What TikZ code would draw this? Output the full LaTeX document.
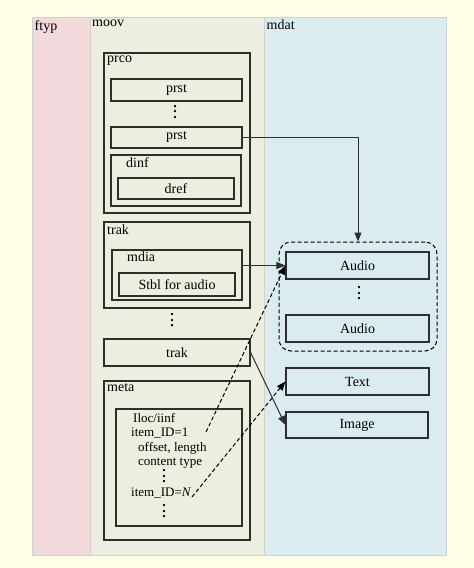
\documentclass[tikz,border=0pt]{standalone}
\usepackage{fontspec}
\setmainfont{Liberation Serif}
\usetikzlibrary{arrows.meta}
\definecolor{bgc}{HTML}{FEFEE6}
\definecolor{ftypc}{HTML}{F2DADC}
\definecolor{moovc}{HTML}{ECEEDF}
\definecolor{mdatc}{HTML}{DBECF1}
\definecolor{linec}{HTML}{2E2E2E}
\newcommand\myvdots{\vbox{\baselineskip5.5pt\lineskiplimit0pt\hbox{.}\hbox{.}\hbox{.}}}
\tikzset{
  col/.style={draw=black!18, line width=0.8pt, minimum width=#1, anchor=north west, minimum height=538pt, inner sep=0pt},
  box/.style={draw=linec, line width=1.2pt, rectangle, inner sep=0pt},
  lbl/.style={anchor=north west, inner sep=0pt, font=\fontsize{14pt}{16pt}\selectfont},
  txt/.style={inner sep=0pt, font=\fontsize{14pt}{16pt}\selectfont},
  itxt/.style={anchor=west, inner sep=0pt, font=\fontsize{13pt}{15pt}\selectfont},
  dotsn/.style={inner sep=0pt, font=\fontsize{14pt}{16pt}\bfseries\selectfont},
  arr/.style={-{Triangle[length=9pt,width=7pt]}, line width=1pt, draw=linec},
  darr/.style={-{Triangle[length=9pt,width=7pt]}, line width=1pt, dashed, dash pattern=on 4pt off 2.5pt, draw=black},
}
\begin{document}
\begin{tikzpicture}[x=1pt,y=-1pt]
\fill[bgc] (0,0) rectangle (474,568);
\useasboundingbox (0,0) rectangle (474,568);
% columns
\node[col=58pt, fill=ftypc] (ftyp) at (32,17) {};
\node[col=174pt, fill=moovc] (moov) at (90,17) {};
\node[col=182pt, fill=mdatc] (mdat) at (264,17) {};
\node[lbl] (ftypl) at (34.5,20) {ftyp};
\node[lbl] (moovl) at (92,20) {moov};
\node[lbl] (mdatl) at (266.5,20) {mdat};
% prco
\node[box, minimum width=146pt, minimum height=160pt] (prco) at (177,133) {};
\node[lbl] (prcol) at (107,56) {prco};
\node[box, txt, minimum width=131pt, minimum height=22pt] (prst1) at (176.5,90) {prst};
\node[dotsn] (dots1) at (175,112) {\myvdots};
\node[box, txt, minimum width=131pt, minimum height=21pt] (prst2) at (176.5,137.5) {prst};
\node[box, minimum width=130pt, minimum height=51pt] (dinf) at (176,180.5) {};
\node[lbl] (dinfl) at (126,157) {dinf};
\node[box, txt, minimum width=116pt, minimum height=21pt] (dref) at (176,188.5) {dref};
% trak
\node[box, minimum width=146pt, minimum height=86pt] (trak) at (177,265) {};
\node[lbl] (trakl) at (107,225) {trak};
\node[box, minimum width=130pt, minimum height=50pt] (mdia) at (177,275) {};
\node[lbl] (mdial) at (127,252) {mdia};
\node[box, txt, minimum width=116pt, minimum height=23pt] (stbl) at (177,284.5) {Stbl for audio};
\node[dotsn] (dots2) at (172,320.5) {\myvdots};
\node[box, txt, minimum width=146pt, minimum height=27pt] (trak2) at (177,352.5) {trak};
% meta
\node[box, minimum width=146pt, minimum height=159pt] (meta) at (177,460.5) {};
\node[lbl] (metal) at (107,383) {meta};
\node[box, minimum width=126pt, minimum height=117pt] (iloc) at (179,467.5) {};
\node[itxt] (il1) at (133,418) {Iloc/iinf};
\node[itxt] (il2) at (131,433) {item\_ID=1};
\node[itxt] (il3) at (138,448.5) {offset, length};
\node[itxt] (il4) at (138,463.5) {content type};
\node[dotsn] (dots4) at (164,476.5) {\myvdots};
\node[itxt] (il5) at (131,493) {item\_ID=\textit{N}};
\node[dotsn] (dots5) at (164,511.5) {\myvdots};
\coordinate (d1) at (206,432);
\coordinate (d2) at (192,497);
% mdat
\node[draw=black, line width=1pt, dashed, dash pattern=on 4pt off 2.5pt, rounded corners=12pt, minimum width=158pt, minimum height=109pt, inner sep=0pt] (grp) at (358,296.5) {};
\node[box, txt, minimum width=143pt, minimum height=27pt] (audio1) at (357.5,265.5) {Audio};
\node[dotsn] (dots3) at (359,293.5) {\myvdots};
\node[box, txt, minimum width=143pt, minimum height=27pt] (audio2) at (357.5,328.5) {Audio};
\node[box, txt, minimum width=143pt, minimum height=27pt] (text) at (357.5,381.5) {Text};
\node[box, txt, minimum width=142pt, minimum height=26pt] (image) at (357,425) {Image};
% connectors
\draw[arr] (prst2.east) -| (grp.north);
\draw[arr] (audio1.west -| mdia.east) -- (audio1.west);
\draw[arr] (trak2.east) -- (image.west);
\draw[darr] (d1) -- (audio1.west);
\draw[darr] (d2) -- (text.west);
\end{tikzpicture}
\end{document}
